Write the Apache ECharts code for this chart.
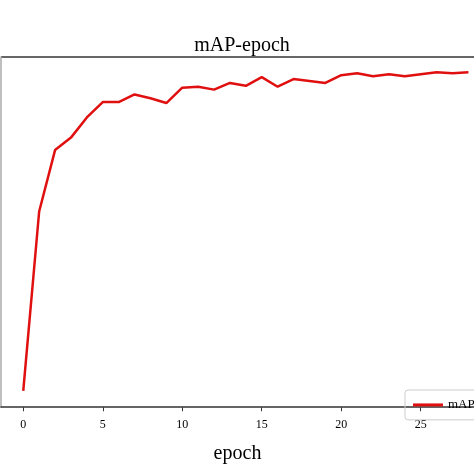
<!DOCTYPE html><html><head><script src="https://cdn.jsdelivr.net/npm/echarts@6/dist/echarts.min.js"></script></head><body style="margin:0"><div id="c" style="width:474px;height:474px"></div><script>
const epochs=[0,1,2,3,4,5,6,7,8,9,10,11,12,13,14,15,16,17,18,19,20,21,22,23,24,25,26,27,28];
const mAP=[0.0625,0.53,0.69,0.7225,0.775,0.815,0.815,0.835,0.825,0.8125,0.8525,0.855,0.8475,0.865,0.8575,0.88,0.855,0.875,0.87,0.865,0.885,0.89,0.8825,0.8875,0.8825,0.8875,0.8925,0.89,0.8925];
const xTicks=[0,5,10,15,20,25];
const F='Liberation Serif';
const c=echarts.init(document.getElementById('c'));
c.setOption({animation:false,
title:{text:'mAP-epoch',left:237,textAlign:'center',top:25,textStyle:{fontFamily:F,fontWeight:'normal',fontSize:20,color:'#000'}},
legend:{data:['mAP'],left:405,top:390,orient:'vertical',borderColor:'#ccc',borderWidth:1,borderRadius:3,padding:[5,8],itemWidth:30,itemHeight:3,icon:'rect',textStyle:{fontFamily:F,fontSize:13,color:'#000'}},
grid:{left:1,right:0,top:57,bottom:52},
xAxis:{type:'value',min:-1.4,max:28.35,interval:1,name:'epoch',nameLocation:'middle',nameGap:30,nameTextStyle:{fontFamily:F,fontSize:20,color:'#000'},
 axisLine:{lineStyle:{color:'#333',width:1.5}},splitLine:{show:false},
 axisTick:{customValues:xTicks,length:4,inside:false,lineStyle:{color:'#333'}},
 axisLabel:{customValues:xTicks,fontFamily:F,fontSize:12,color:'#000',margin:8}},
yAxis:{type:'value',min:0.02,max:0.9325,axisLine:{show:true,onZero:false,lineStyle:{color:'#aaa',width:1.5}},axisTick:{show:false},axisLabel:{show:false},splitLine:{show:false}},
series:[{name:'mAP',type:'line',data:epochs.map((e,i)=>[e,mAP[i]]),showSymbol:false,lineStyle:{color:'#e01010',width:2.5},itemStyle:{color:'#e01010'}}]
});
c.setOption({graphic:[{type:'line',shape:{x1:1,y1:57,x2:474,y2:57},style:{stroke:'#333',lineWidth:1.5}}]});
</script></body></html>
